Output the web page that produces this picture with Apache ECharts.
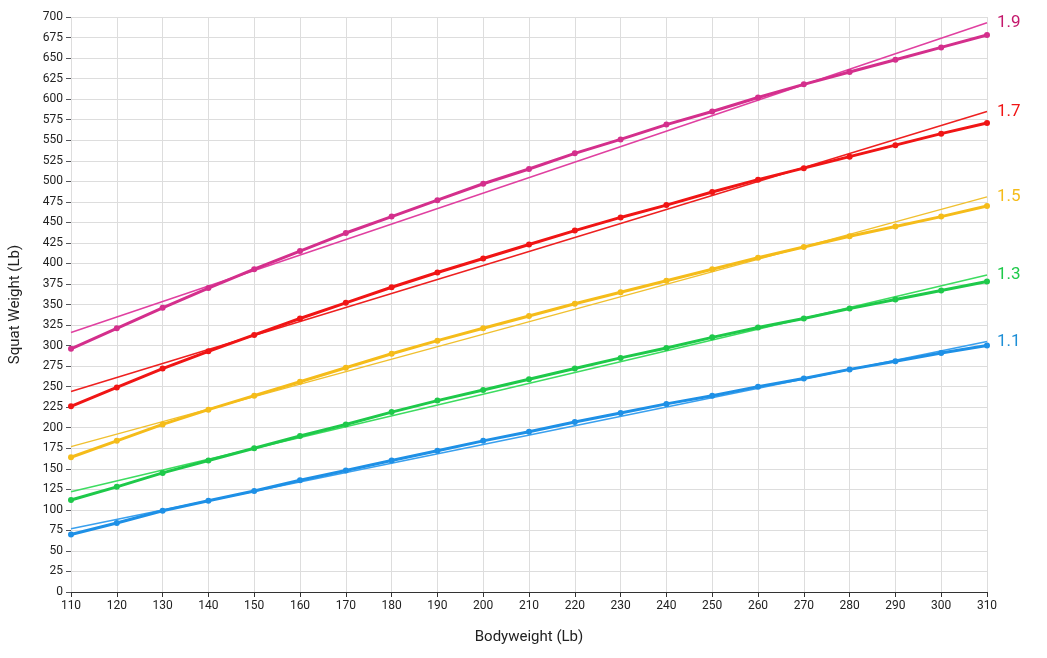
<!DOCTYPE html><html><head><meta charset="utf-8"><script src="https://cdn.jsdelivr.net/npm/echarts@6/dist/echarts.min.js"></script></head><body style="margin:0"><div id="c" style="width:1047px;height:658px"></div><script>
const bodyweights=[110,120,130,140,150,160,170,180,190,200,210,220,230,240,250,260,270,280,290,300,310];
const ratioLabels=['1.1','1.3','1.5','1.7','1.9'];
const colors=['#1e90e6','#1ec94a','#f5bc1a','#f01515','#d42f8c'];
const thinColors=['#3aa0ee','#3ddc60','#f0c030','#ee2020','#e040a0'];
const labelColors=['#1e8fd6','#1ec94a','#f5bc1a','#f01515','#c4186c'];
const s11=[70,84,99,111,123,136,148,160,172,184,195,207,218,229,239,250,260,271,281,291,300];
const s13=[112,128,145,160,175,190,204,219,233,246,259,272,285,297,310,322,333,345,356,367,378];
const s15=[164,184,204,222,239,256,273,290,306,321,336,351,365,379,393,407,420,433,445,457,470];
const s17=[226,249,272,293,313,333,352,371,389,406,423,440,456,471,487,502,516,530,544,558,571];
const s19=[296,321,346,370,393,415,437,457,477,497,515,534,551,569,585,602,618,633,648,663,678];
const trendStart=[77,122,177,244,316];
const trendEnd=[305,386,481,585,693];
const all=[s11,s13,s15,s17,s19];
const series=[];
all.forEach((d,i)=>{
series.push({type:'line',data:bodyweights.map((x,j)=>[x,d[j]]),symbol:'circle',symbolSize:6,lineStyle:{width:3,color:colors[i]},itemStyle:{color:colors[i]},z:3});
series.push({type:'line',data:[[110,trendStart[i]],[310,trendEnd[i]]],symbol:'none',lineStyle:{width:1.5,color:thinColors[i]},z:2,
endLabel:{show:true,formatter:ratioLabels[i],color:labelColors[i],fontSize:17,offset:[2,0]}});
});
echarts.init(document.getElementById('c')).setOption({animation:false,
grid:{left:70,right:60,top:17,bottom:66},
textStyle:{fontFamily:'Roboto'},
xAxis:{type:'value',min:110,max:310,interval:10,name:'Bodyweight (Lb)',nameLocation:'middle',nameGap:38,nameTextStyle:{fontSize:15,color:'#222'},
axisLine:{lineStyle:{color:'#333'}},axisTick:{show:true},axisLabel:{color:'#222',fontSize:12},splitLine:{lineStyle:{color:'#ddd'}}},
yAxis:{type:'value',min:0,max:700,interval:25,name:'Squat Weight (Lb)',nameLocation:'middle',nameGap:48,nameTextStyle:{fontSize:15,color:'#222'},
axisLine:{show:false},axisLabel:{color:'#222',fontSize:12},splitLine:{lineStyle:{color:'#ddd'}}},
series});
</script></body></html>
